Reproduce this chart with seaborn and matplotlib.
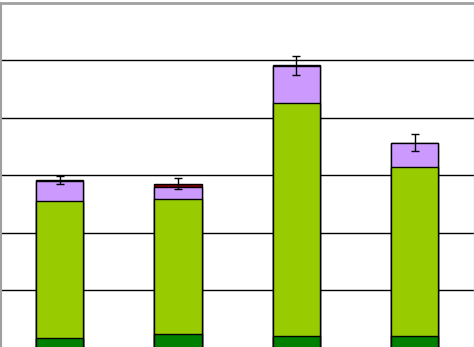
import matplotlib
matplotlib.use("Agg")
import matplotlib.pyplot as plt
import seaborn as sns
import pandas as pd
import numpy as np

categories = ["A", "B", "C", "D"]
dark_green = [0.16, 0.23, 0.20, 0.20]
yellow_green = [2.39, 2.36, 4.06, 2.94]
purple = [0.35, 0.20, 0.64, 0.41]
dark_red = [0.01, 0.06, 0.01, 0.01]
errors = [0.07, 0.09, 0.165, 0.15]

series_names = ["dark green", "yellow green", "purple", "dark red"]
series_vals = [dark_green, yellow_green, purple, dark_red]
series_cols = ["#008000", "#99CC00", "#CC99FF", "#800000"]

sns.set_theme(style="white")
fig = plt.figure(figsize=(4.74, 3.47), dpi=100)
ax = fig.add_axes([0.5 / 474, -0.5 / 347, 473.3 / 474, 345 / 347])

cum = np.cumsum(np.array(series_vals), axis=0)
for i in range(len(series_names) - 1, -1, -1):
    df = pd.DataFrame({"cat": categories, "val": cum[i]})
    sns.barplot(data=df, x="cat", y="val", color=series_cols[i], width=0.4,
                edgecolor="black", linewidth=1.0, saturation=1, ax=ax, zorder=3)

ax.errorbar(np.arange(len(categories)), cum[-1], yerr=errors, fmt="none",
            ecolor="black", elinewidth=1.0, capsize=3, capthick=1.0, zorder=4)

ax.set_ylim(0, 6)
ax.set_xlim(-0.5, 3.5)
ax.set_yticks([1, 2, 3, 4, 5])
ax.yaxis.grid(True, color="black", linewidth=1.0, zorder=0)
ax.set_axisbelow(True)
ax.set_xticks([])
ax.tick_params(left=False, bottom=False, labelleft=False, labelbottom=False)
ax.set_xlabel("")
ax.set_ylabel("")
ax.spines["left"].set_color("#A0A0A0")
ax.spines["left"].set_linewidth(1.5)
ax.spines["top"].set_color("#A0A0A0")
ax.spines["top"].set_linewidth(2.0)
ax.spines["right"].set_color("#C8C8C8")
ax.spines["right"].set_linewidth(1.0)
ax.spines["bottom"].set_visible(False)

fig.savefig("out.png", dpi=100)
